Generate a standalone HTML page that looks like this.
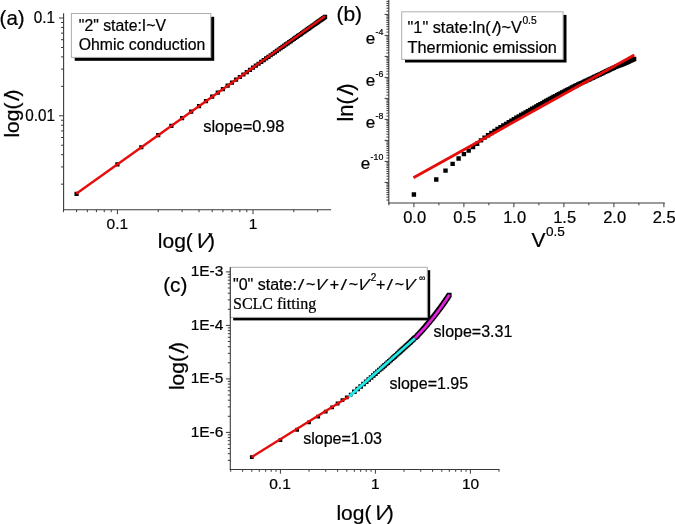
<!DOCTYPE html>
<html lang="en">
<head>
<meta charset="utf-8">
<title>I-V fitting of resistive states</title>
<style>
html,body{margin:0;padding:0;background:#fff;}
body{width:675px;height:524px;overflow:hidden;}
svg{display:block;}
svg text{fill:#000;stroke:#000;stroke-width:0.22px;}
</style>
</head>
<body>
<svg width="675" height="524" viewBox="0 0 675 524">
<rect width="675" height="524" fill="#fff"/>
<line x1="63.6" y1="13.2" x2="63.6" y2="210.35" stroke="#3a3a3a" stroke-width="1.1"/>
<line x1="63.05" y1="209.8" x2="331.1" y2="209.8" stroke="#3a3a3a" stroke-width="1.1"/>
<path d="M59 18L63.6 18M59 115.8L63.6 115.8M61 86.36L63.6 86.36M61 69.14L63.6 69.14M61 56.92L63.6 56.92M61 47.44L63.6 47.44M61 39.7L63.6 39.7M61 33.15L63.6 33.15M61 27.48L63.6 27.48M61 22.48L63.6 22.48M61 184.16L63.6 184.16M61 166.94L63.6 166.94M61 154.72L63.6 154.72M61 145.24L63.6 145.24M61 137.5L63.6 137.5M61 130.95L63.6 130.95M61 125.28L63.6 125.28M61 120.28L63.6 120.28M63.44 209.8L63.44 212.2M76.58 209.8L76.58 212.2M87.32 209.8L87.32 212.2M96.4 209.8L96.4 212.2M104.26 209.8L104.26 212.2M111.2 209.8L111.2 212.2M117.4 209.8L117.4 214.2M158.22 209.8L158.22 212.2M182.1 209.8L182.1 212.2M199.04 209.8L199.04 212.2M212.18 209.8L212.18 212.2M222.92 209.8L222.92 212.2M232 209.8L232 212.2M239.86 209.8L239.86 212.2M246.8 209.8L246.8 212.2M253 209.8L253 214.2M293.82 209.8L293.82 212.2M317.7 209.8L317.7 212.2" stroke="#3a3a3a" stroke-width="1.0" fill="none"/>
<text transform="translate(55 23) scale(0.96 1)" font-size="15.9" text-anchor="end" font-family='"Liberation Sans", Arial, Helvetica, sans-serif'>0.1</text>
<text transform="translate(55 120.8) scale(0.96 1)" font-size="15.9" text-anchor="end" font-family='"Liberation Sans", Arial, Helvetica, sans-serif'>0.01</text>
<text x="117.4" y="228.9" font-size="15.5" text-anchor="middle" font-family='"Liberation Sans", Arial, Helvetica, sans-serif'>0.1</text>
<text x="253" y="228.9" font-size="15.5" text-anchor="middle" font-family='"Liberation Sans", Arial, Helvetica, sans-serif'>1</text>
<path d="M74.48 191.83h4.2v4.2h-4.2zM115.3 162.21h4.2v4.2h-4.2zM139.18 145.17h4.2v4.2h-4.2zM156.12 133.09h4.2v4.2h-4.2zM169.26 123.71h4.2v4.2h-4.2zM180 116.05h4.2v4.2h-4.2zM189.08 109.57h4.2v4.2h-4.2zM196.94 103.96h4.2v4.2h-4.2zM203.88 99.01h4.2v4.2h-4.2zM210.08 94.59h4.2v4.2h-4.2zM215.69 90.58h4.2v4.2h-4.2zM220.82 86.93h4.2v4.2h-4.2zM225.53 83.57h4.2v4.2h-4.2zM229.9 80.48h4.2v4.2h-4.2zM233.96 77.6h4.2v4.2h-4.2zM237.76 74.91h4.2v4.2h-4.2zM241.33 72.38h4.2v4.2h-4.2zM244.7 70h4.2v4.2h-4.2zM247.88 67.75h4.2v4.2h-4.2zM250.9 65.62h4.2v4.2h-4.2zM253.77 63.59h4.2v4.2h-4.2zM256.51 61.65h4.2v4.2h-4.2zM259.13 59.81h4.2v4.2h-4.2zM261.64 58.04h4.2v4.2h-4.2zM264.04 56.34h4.2v4.2h-4.2zM266.35 54.71h4.2v4.2h-4.2zM268.57 53.14h4.2v4.2h-4.2zM270.71 51.63h4.2v4.2h-4.2zM272.78 50.18h4.2v4.2h-4.2zM274.78 48.77h4.2v4.2h-4.2zM276.71 47.41h4.2v4.2h-4.2zM278.58 46.09h4.2v4.2h-4.2zM280.39 44.81h4.2v4.2h-4.2zM282.15 43.57h4.2v4.2h-4.2zM283.86 42.37h4.2v4.2h-4.2zM285.51 41.2h4.2v4.2h-4.2zM287.13 40.07h4.2v4.2h-4.2zM288.7 38.96h4.2v4.2h-4.2zM290.23 37.88h4.2v4.2h-4.2zM291.72 36.83h4.2v4.2h-4.2zM293.17 35.81h4.2v4.2h-4.2zM294.59 34.81h4.2v4.2h-4.2zM295.98 33.83h4.2v4.2h-4.2zM297.33 32.88h4.2v4.2h-4.2zM298.66 31.95h4.2v4.2h-4.2zM299.95 31.04h4.2v4.2h-4.2zM301.22 30.15h4.2v4.2h-4.2zM302.46 29.27h4.2v4.2h-4.2zM303.67 28.42h4.2v4.2h-4.2zM304.86 27.58h4.2v4.2h-4.2zM306.03 26.76h4.2v4.2h-4.2zM307.17 25.96h4.2v4.2h-4.2zM308.29 25.17h4.2v4.2h-4.2zM309.39 24.39h4.2v4.2h-4.2zM310.47 23.63h4.2v4.2h-4.2zM311.53 22.89h4.2v4.2h-4.2zM312.58 22.15h4.2v4.2h-4.2zM313.6 21.43h4.2v4.2h-4.2zM314.61 20.73h4.2v4.2h-4.2zM315.6 20.03h4.2v4.2h-4.2zM316.57 19.34h4.2v4.2h-4.2zM317.53 18.67h4.2v4.2h-4.2zM318.47 18.01h4.2v4.2h-4.2zM319.4 17.36h4.2v4.2h-4.2zM320.31 16.71h4.2v4.2h-4.2zM321.21 16.08h4.2v4.2h-4.2zM322.1 15.46h4.2v4.2h-4.2zM322.97 14.85h4.2v4.2h-4.2z" fill="#000"/>
<line x1="76.2" y1="193.7" x2="325" y2="16.2" stroke="#e60d0d" stroke-width="2.4"/>
<rect x="74.7" y="16.8" width="139.5" height="44" fill="#000"/>
<rect x="71.4" y="13.5" width="139.4" height="43.9" fill="#fff" stroke="#adadad" stroke-width="1"/>
<text x="78.8" y="31.4" font-size="15.8" text-anchor="start" font-family='"Liberation Sans", Arial, Helvetica, sans-serif'>"2" state:I~V</text>
<text x="78.8" y="49.8" font-size="15.8" text-anchor="start" font-family='"Liberation Sans", Arial, Helvetica, sans-serif'>Ohmic conduction</text>
<text x="203.2" y="132.4" font-size="16.5" text-anchor="start" font-family='"Liberation Sans", Arial, Helvetica, sans-serif'>slope=0.98</text>
<text x="-0.4" y="25.4" font-size="20.5" text-anchor="start" font-family='"Liberation Sans", Arial, Helvetica, sans-serif'>(a)</text>
<g transform="translate(18.7 137.6) rotate(-90)" font-size="21" font-family='"Liberation Sans", Arial, Helvetica, sans-serif'>
<text x="0" y="0">log(</text>
<text transform="translate(35.81 0) skewX(-10)" font-style="italic" stroke-width="0.15">I</text>
<text x="41.01" y="0">)</text>
</g>
<g transform="translate(157.8 247.8)" font-size="21" font-family='"Liberation Sans", Arial, Helvetica, sans-serif'>
<text x="0" y="0">log(</text>
<text transform="translate(36.41 0) skewX(-10)" font-style="italic">V</text>
<text x="50.31" y="0">)</text>
</g>
<line x1="388.8" y1="0" x2="388.8" y2="203.55" stroke="#3a3a3a" stroke-width="1.1"/>
<line x1="388.25" y1="203" x2="664.8" y2="203" stroke="#3a3a3a" stroke-width="1.1"/>
<path d="M386.4 200.07L388.8 200.07M386.4 197.2L388.8 197.2M386.4 194.67L388.8 194.67M386.4 192.41L388.8 192.41M386.4 190.38L388.8 190.38M386.4 188.52L388.8 188.52M386.4 186.82L388.8 186.82M386.4 185.24L388.8 185.24M386.4 183.77L388.8 183.77M384.6 182.4L388.8 182.4M386.4 179.07L388.8 179.07M386.4 176.2L388.8 176.2M386.4 173.67L388.8 173.67M386.4 171.41L388.8 171.41M386.4 169.38L388.8 169.38M386.4 167.52L388.8 167.52M386.4 165.82L388.8 165.82M386.4 164.24L388.8 164.24M386.4 162.77L388.8 162.77M384.6 161.4L388.8 161.4M386.4 158.07L388.8 158.07M386.4 155.2L388.8 155.2M386.4 152.67L388.8 152.67M386.4 150.41L388.8 150.41M386.4 148.38L388.8 148.38M386.4 146.52L388.8 146.52M386.4 144.82L388.8 144.82M386.4 143.24L388.8 143.24M386.4 141.77L388.8 141.77M384.6 140.4L388.8 140.4M386.4 137.07L388.8 137.07M386.4 134.2L388.8 134.2M386.4 131.67L388.8 131.67M386.4 129.41L388.8 129.41M386.4 127.38L388.8 127.38M386.4 125.52L388.8 125.52M386.4 123.82L388.8 123.82M386.4 122.24L388.8 122.24M386.4 120.77L388.8 120.77M384.6 119.4L388.8 119.4M386.4 116.07L388.8 116.07M386.4 113.2L388.8 113.2M386.4 110.67L388.8 110.67M386.4 108.41L388.8 108.41M386.4 106.38L388.8 106.38M386.4 104.52L388.8 104.52M386.4 102.82L388.8 102.82M386.4 101.24L388.8 101.24M386.4 99.77L388.8 99.77M384.6 98.4L388.8 98.4M386.4 95.07L388.8 95.07M386.4 92.2L388.8 92.2M386.4 89.67L388.8 89.67M386.4 87.41L388.8 87.41M386.4 85.38L388.8 85.38M386.4 83.52L388.8 83.52M386.4 81.82L388.8 81.82M386.4 80.24L388.8 80.24M386.4 78.77L388.8 78.77M384.6 77.4L388.8 77.4M386.4 74.07L388.8 74.07M386.4 71.2L388.8 71.2M386.4 68.67L388.8 68.67M386.4 66.41L388.8 66.41M386.4 64.38L388.8 64.38M386.4 62.52L388.8 62.52M386.4 60.82L388.8 60.82M386.4 59.24L388.8 59.24M386.4 57.77L388.8 57.77M384.6 56.4L388.8 56.4M386.4 53.07L388.8 53.07M386.4 50.2L388.8 50.2M386.4 47.67L388.8 47.67M386.4 45.41L388.8 45.41M386.4 43.38L388.8 43.38M386.4 41.52L388.8 41.52M386.4 39.82L388.8 39.82M386.4 38.24L388.8 38.24M386.4 36.77L388.8 36.77M384.6 35.4L388.8 35.4M386.4 32.07L388.8 32.07M386.4 29.2L388.8 29.2M386.4 26.67L388.8 26.67M386.4 24.41L388.8 24.41M386.4 22.38L388.8 22.38M386.4 20.52L388.8 20.52M386.4 18.82L388.8 18.82M386.4 17.24L388.8 17.24M386.4 15.77L388.8 15.77M384.6 14.4L388.8 14.4M386.4 11.07L388.8 11.07M386.4 8.2L388.8 8.2M386.4 5.67L388.8 5.67M386.4 3.41L388.8 3.41M386.4 1.38L388.8 1.38M388.9 203L388.9 205.3M413.9 203L413.9 207.2M438.9 203L438.9 205.3M463.9 203L463.9 207.2M488.9 203L488.9 205.3M513.9 203L513.9 207.2M538.9 203L538.9 205.3M563.9 203L563.9 207.2M588.9 203L588.9 205.3M613.9 203L613.9 207.2M638.9 203L638.9 205.3M663.9 203L663.9 207.2" stroke="#3a3a3a" stroke-width="1.0" fill="none"/>
<text x="375.15" y="43.5" font-size="17" text-anchor="end" font-family='"Liberation Sans", Arial, Helvetica, sans-serif'>e</text>
<text transform="translate(375.45 34.5) scale(0.92 1)" font-size="9.6" text-anchor="start" font-family='"Liberation Sans", Arial, Helvetica, sans-serif'>-4</text>
<text x="375.15" y="85.6" font-size="17" text-anchor="end" font-family='"Liberation Sans", Arial, Helvetica, sans-serif'>e</text>
<text transform="translate(375.45 76.6) scale(0.92 1)" font-size="9.6" text-anchor="start" font-family='"Liberation Sans", Arial, Helvetica, sans-serif'>-6</text>
<text x="375.15" y="127.6" font-size="17" text-anchor="end" font-family='"Liberation Sans", Arial, Helvetica, sans-serif'>e</text>
<text transform="translate(375.45 118.6) scale(0.92 1)" font-size="9.6" text-anchor="start" font-family='"Liberation Sans", Arial, Helvetica, sans-serif'>-8</text>
<text x="370.24" y="169.4" font-size="17" text-anchor="end" font-family='"Liberation Sans", Arial, Helvetica, sans-serif'>e</text>
<text transform="translate(370.54 160.4) scale(0.92 1)" font-size="9.6" text-anchor="start" font-family='"Liberation Sans", Arial, Helvetica, sans-serif'>-10</text>
<text x="414.6" y="222.9" font-size="16.5" text-anchor="middle" font-family='"Liberation Sans", Arial, Helvetica, sans-serif'>0.0</text>
<text x="464.6" y="222.9" font-size="16.5" text-anchor="middle" font-family='"Liberation Sans", Arial, Helvetica, sans-serif'>0.5</text>
<text x="514.6" y="222.9" font-size="16.5" text-anchor="middle" font-family='"Liberation Sans", Arial, Helvetica, sans-serif'>1.0</text>
<text x="564.6" y="222.9" font-size="16.5" text-anchor="middle" font-family='"Liberation Sans", Arial, Helvetica, sans-serif'>1.5</text>
<text x="614.6" y="222.9" font-size="16.5" text-anchor="middle" font-family='"Liberation Sans", Arial, Helvetica, sans-serif'>2.0</text>
<text x="675.6" y="222.9" font-size="16.5" text-anchor="end" font-family='"Liberation Sans", Arial, Helvetica, sans-serif'>2.5</text>
<path d="M411.7 192.32h4.4v4.4h-4.4zM434.06 177.36h4.4v4.4h-4.4zM443.32 168.42h4.4v4.4h-4.4zM450.43 161.72h4.4v4.4h-4.4zM456.42 156.35h4.4v4.4h-4.4zM461.7 151.95h4.4v4.4h-4.4zM466.47 148.44h4.4v4.4h-4.4zM470.86 144.92h4.4v4.4h-4.4zM474.95 141.56h4.4v4.4h-4.4zM478.78 138.17h4.4v4.4h-4.4zM482.41 135.44h4.4v4.4h-4.4zM485.86 133.02h4.4v4.4h-4.4zM489.16 130.82h4.4v4.4h-4.4zM492.32 128.78h4.4v4.4h-4.4zM495.37 126.86h4.4v4.4h-4.4zM498.3 125.05h4.4v4.4h-4.4zM501.14 123.32h4.4v4.4h-4.4zM503.9 121.64h4.4v4.4h-4.4zM506.57 120.02h4.4v4.4h-4.4zM509.17 118.46h4.4v4.4h-4.4zM511.7 116.96h4.4v4.4h-4.4zM514.17 115.52h4.4v4.4h-4.4zM516.58 114.13h4.4v4.4h-4.4zM518.94 112.8h4.4v4.4h-4.4zM521.24 111.5h4.4v4.4h-4.4zM523.5 110.23h4.4v4.4h-4.4zM525.72 108.99h4.4v4.4h-4.4zM527.89 107.77h4.4v4.4h-4.4zM530.02 106.57h4.4v4.4h-4.4zM532.12 105.4h4.4v4.4h-4.4zM534.17 104.25h4.4v4.4h-4.4zM536.2 103.12h4.4v4.4h-4.4zM538.19 102.01h4.4v4.4h-4.4zM540.15 100.92h4.4v4.4h-4.4zM542.08 99.84h4.4v4.4h-4.4zM543.99 98.79h4.4v4.4h-4.4zM545.86 97.76h4.4v4.4h-4.4zM547.71 96.76h4.4v4.4h-4.4zM549.54 95.78h4.4v4.4h-4.4zM551.34 94.82h4.4v4.4h-4.4zM553.12 93.89h4.4v4.4h-4.4zM554.88 92.97h4.4v4.4h-4.4zM556.61 92.07h4.4v4.4h-4.4zM558.33 91.19h4.4v4.4h-4.4zM560.02 90.31h4.4v4.4h-4.4zM561.7 89.46h4.4v4.4h-4.4zM563.36 88.61h4.4v4.4h-4.4zM565 87.77h4.4v4.4h-4.4zM566.62 86.95h4.4v4.4h-4.4zM568.22 86.13h4.4v4.4h-4.4zM569.81 85.33h4.4v4.4h-4.4zM571.39 84.55h4.4v4.4h-4.4zM572.95 83.78h4.4v4.4h-4.4zM574.49 83.04h4.4v4.4h-4.4zM576.02 82.3h4.4v4.4h-4.4zM577.53 81.58h4.4v4.4h-4.4zM579.03 80.88h4.4v4.4h-4.4zM580.52 80.18h4.4v4.4h-4.4zM581.99 79.49h4.4v4.4h-4.4zM583.46 78.81h4.4v4.4h-4.4zM584.91 78.14h4.4v4.4h-4.4zM586.34 77.48h4.4v4.4h-4.4zM587.77 76.82h4.4v4.4h-4.4zM589.18 76.16h4.4v4.4h-4.4zM590.59 75.51h4.4v4.4h-4.4zM591.98 74.86h4.4v4.4h-4.4zM593.36 74.22h4.4v4.4h-4.4zM594.73 73.57h4.4v4.4h-4.4zM596.09 72.92h4.4v4.4h-4.4zM597.44 72.28h4.4v4.4h-4.4zM598.78 71.63h4.4v4.4h-4.4zM600.11 70.99h4.4v4.4h-4.4zM601.44 70.35h4.4v4.4h-4.4zM602.75 69.72h4.4v4.4h-4.4zM604.05 69.1h4.4v4.4h-4.4zM605.35 68.48h4.4v4.4h-4.4zM606.64 67.87h4.4v4.4h-4.4zM607.91 67.27h4.4v4.4h-4.4zM609.18 66.67h4.4v4.4h-4.4zM610.45 66.09h4.4v4.4h-4.4zM611.7 65.52h4.4v4.4h-4.4zM612.95 64.96h4.4v4.4h-4.4zM614.18 64.43h4.4v4.4h-4.4zM615.42 63.94h4.4v4.4h-4.4zM616.64 63.46h4.4v4.4h-4.4zM617.86 63h4.4v4.4h-4.4zM619.06 62.54h4.4v4.4h-4.4zM620.27 62.08h4.4v4.4h-4.4zM621.46 61.61h4.4v4.4h-4.4zM622.65 61.12h4.4v4.4h-4.4zM623.83 60.6h4.4v4.4h-4.4zM625.01 60.06h4.4v4.4h-4.4zM626.18 59.52h4.4v4.4h-4.4zM627.34 58.97h4.4v4.4h-4.4zM628.49 58.41h4.4v4.4h-4.4zM629.64 57.86h4.4v4.4h-4.4zM630.79 57.31h4.4v4.4h-4.4zM631.93 56.77h4.4v4.4h-4.4z" fill="#000"/>
<line x1="413.4" y1="177.8" x2="634.3" y2="55" stroke="#e60d0d" stroke-width="2.9"/>
<rect x="405" y="14.9" width="161.5" height="47.6" fill="#000"/>
<rect x="401.7" y="11.8" width="161.4" height="47.6" fill="#fff" stroke="#adadad" stroke-width="1"/>
<g font-size="16.3" font-family='"Liberation Sans", Arial, Helvetica, sans-serif'>
<text x="407.6" y="33.4">"1" state:ln(</text>
<text transform="translate(491.3 33.4) skewX(-12)" font-style="italic" stroke-width="0.2">I</text>
<text x="496.1" y="33.4">)~V<tspan font-size="10.3" dy="-9.0" dx="0.5">0.5</tspan></text>
</g>
<text x="407.6" y="52.7" font-size="16.3" text-anchor="start" font-family='"Liberation Sans", Arial, Helvetica, sans-serif'>Thermionic emission</text>
<text x="336.4" y="21" font-size="21" text-anchor="start" font-family='"Liberation Sans", Arial, Helvetica, sans-serif'>(b)</text>
<g transform="translate(352.6 121.6) rotate(-90)" font-size="22" font-family='"Liberation Sans", Arial, Helvetica, sans-serif'>
<text x="0" y="0">ln(</text>
<text transform="translate(25.44 0) skewX(-10)" font-style="italic" stroke-width="0.15">I</text>
<text x="30.94" y="0">)</text>
</g>
<text x="531.6" y="247.2" font-size="21" font-family='"Liberation Sans", Arial, Helvetica, sans-serif'>V<tspan font-size="13.6" dy="-11.3" dx="0.3">0.5</tspan></text>
<rect x="233.2" y="270.2" width="197" height="50.2" fill="#000"/>
<rect x="230.3" y="267.3" width="197" height="50.1" fill="#fff" stroke="#adadad" stroke-width="1"/>
<line x1="230.3" y1="267.3" x2="230.3" y2="470.05" stroke="#3a3a3a" stroke-width="1.1"/>
<line x1="229.75" y1="469.5" x2="499.5" y2="469.5" stroke="#3a3a3a" stroke-width="1.1"/>
<path d="M225.9 271.9L230.3 271.9M225.9 325.4L230.3 325.4M227.8 309.29L230.3 309.29M227.8 299.87L230.3 299.87M227.8 293.19L230.3 293.19M227.8 288.01L230.3 288.01M227.8 283.77L230.3 283.77M227.8 280.19L230.3 280.19M227.8 277.08L230.3 277.08M227.8 274.35L230.3 274.35M225.9 378.9L230.3 378.9M227.8 362.79L230.3 362.79M227.8 353.37L230.3 353.37M227.8 346.69L230.3 346.69M227.8 341.51L230.3 341.51M227.8 337.27L230.3 337.27M227.8 333.69L230.3 333.69M227.8 330.58L230.3 330.58M227.8 327.85L230.3 327.85M225.9 432.4L230.3 432.4M227.8 416.29L230.3 416.29M227.8 406.87L230.3 406.87M227.8 400.19L230.3 400.19M227.8 395.01L230.3 395.01M227.8 390.77L230.3 390.77M227.8 387.19L230.3 387.19M227.8 384.08L230.3 384.08M227.8 381.35L230.3 381.35M227.8 460.37L230.3 460.37M227.8 453.69L230.3 453.69M227.8 448.51L230.3 448.51M227.8 444.27L230.3 444.27M227.8 440.69L230.3 440.69M227.8 437.58L230.3 437.58M227.8 434.85L230.3 434.85M230.73 469.5L230.73 471.8M242.6 469.5L242.6 471.8M251.8 469.5L251.8 471.8M259.32 469.5L259.32 471.8M265.68 469.5L265.68 471.8M271.19 469.5L271.19 471.8M276.05 469.5L276.05 471.8M280.4 469.5L280.4 473.7M309 469.5L309 471.8M325.73 469.5L325.73 471.8M337.6 469.5L337.6 471.8M346.8 469.5L346.8 471.8M354.32 469.5L354.32 471.8M360.68 469.5L360.68 471.8M366.19 469.5L366.19 471.8M371.05 469.5L371.05 471.8M375.4 469.5L375.4 473.7M404 469.5L404 471.8M420.73 469.5L420.73 471.8M432.6 469.5L432.6 471.8M441.8 469.5L441.8 471.8M449.32 469.5L449.32 471.8M455.68 469.5L455.68 471.8M461.19 469.5L461.19 471.8M466.05 469.5L466.05 471.8M470.4 469.5L470.4 473.7M499 469.5L499 471.8" stroke="#3a3a3a" stroke-width="1.0" fill="none"/>
<text x="223.4" y="276.2" font-size="15.5" text-anchor="end" font-family='"Liberation Sans", Arial, Helvetica, sans-serif'>1E-3</text>
<text x="223.4" y="329.7" font-size="15.5" text-anchor="end" font-family='"Liberation Sans", Arial, Helvetica, sans-serif'>1E-4</text>
<text x="223.4" y="383.2" font-size="15.5" text-anchor="end" font-family='"Liberation Sans", Arial, Helvetica, sans-serif'>1E-5</text>
<text x="223.4" y="436.7" font-size="15.5" text-anchor="end" font-family='"Liberation Sans", Arial, Helvetica, sans-serif'>1E-6</text>
<text x="280" y="489" font-size="15.5" text-anchor="middle" font-family='"Liberation Sans", Arial, Helvetica, sans-serif'>0.1</text>
<text x="375.4" y="489" font-size="15.5" text-anchor="middle" font-family='"Liberation Sans", Arial, Helvetica, sans-serif'>1</text>
<text x="470.6" y="489" font-size="15.5" text-anchor="middle" font-family='"Liberation Sans", Arial, Helvetica, sans-serif'>10</text>
<path d="M249.9 455.18h3.8v3.8h-3.8zM278.5 438.18h3.8v3.8h-3.8zM295.23 427.87h3.8v3.8h-3.8zM307.1 420.49h3.8v3.8h-3.8zM316.3 414.66h3.8v3.8h-3.8zM323.83 409.77h3.8v3.8h-3.8zM330.19 405.43h3.8v3.8h-3.8zM335.7 401.59h3.8v3.8h-3.8zM340.56 398.2h3.8v3.8h-3.8zM344.9 395.38h3.8v3.8h-3.8zM348.83 392.63h3.8v3.8h-3.8z" fill="#000"/>
<path d="M352.02 389.41h4.6v4.6h-4.6zM355.33 386.68h4.6v4.6h-4.6zM358.38 384.13h4.6v4.6h-4.6zM361.23 381.72h4.6v4.6h-4.6zM363.89 379.42h4.6v4.6h-4.6zM366.39 377.23h4.6v4.6h-4.6zM368.75 375.15h4.6v4.6h-4.6zM370.98 373.17h4.6v4.6h-4.6zM373.1 371.28h4.6v4.6h-4.6zM375.11 369.48h4.6v4.6h-4.6zM377.03 367.77h4.6v4.6h-4.6zM378.87 366.14h4.6v4.6h-4.6zM380.62 364.58h4.6v4.6h-4.6zM382.31 363.09h4.6v4.6h-4.6zM383.92 361.66h4.6v4.6h-4.6zM385.48 360.28h4.6v4.6h-4.6zM386.98 358.95h4.6v4.6h-4.6zM388.43 357.66h4.6v4.6h-4.6zM389.83 356.41h4.6v4.6h-4.6zM391.18 355.2h4.6v4.6h-4.6zM392.49 354.03h4.6v4.6h-4.6zM393.76 352.88h4.6v4.6h-4.6zM394.99 351.77h4.6v4.6h-4.6zM396.19 350.68h4.6v4.6h-4.6zM397.35 349.62h4.6v4.6h-4.6zM398.48 348.59h4.6v4.6h-4.6zM399.58 347.59h4.6v4.6h-4.6zM400.65 346.62h4.6v4.6h-4.6zM401.7 345.68h4.6v4.6h-4.6zM402.72 344.77h4.6v4.6h-4.6zM403.71 343.87h4.6v4.6h-4.6zM404.68 342.99h4.6v4.6h-4.6zM405.63 342.12h4.6v4.6h-4.6zM406.56 341.27h4.6v4.6h-4.6zM407.46 340.42h4.6v4.6h-4.6zM408.35 339.57h4.6v4.6h-4.6zM409.22 338.73h4.6v4.6h-4.6zM410.07 337.9h4.6v4.6h-4.6zM410.9 337.06h4.6v4.6h-4.6zM411.72 336.22h4.6v4.6h-4.6zM412.52 335.39h4.6v4.6h-4.6zM413.31 335.25h4.6v4.6h-4.6zM414.08 334.43h4.6v4.6h-4.6zM414.84 333.61h4.6v4.6h-4.6zM415.58 332.81h4.6v4.6h-4.6zM416.31 332.01h4.6v4.6h-4.6zM417.03 331.22h4.6v4.6h-4.6zM417.73 330.44h4.6v4.6h-4.6zM418.43 329.67h4.6v4.6h-4.6zM419.11 328.9h4.6v4.6h-4.6zM419.78 328.14h4.6v4.6h-4.6zM420.44 327.39h4.6v4.6h-4.6zM421.09 326.65h4.6v4.6h-4.6zM421.73 325.92h4.6v4.6h-4.6zM422.36 325.19h4.6v4.6h-4.6zM422.98 324.47h4.6v4.6h-4.6zM423.59 323.75h4.6v4.6h-4.6zM424.19 323.05h4.6v4.6h-4.6zM424.79 322.35h4.6v4.6h-4.6zM425.37 321.65h4.6v4.6h-4.6zM425.95 320.96h4.6v4.6h-4.6zM426.52 320.28h4.6v4.6h-4.6zM427.08 319.6h4.6v4.6h-4.6zM427.63 318.93h4.6v4.6h-4.6zM428.18 318.27h4.6v4.6h-4.6zM428.72 317.61h4.6v4.6h-4.6zM429.25 316.95h4.6v4.6h-4.6zM429.78 316.3h4.6v4.6h-4.6zM430.3 315.66h4.6v4.6h-4.6zM430.81 315.02h4.6v4.6h-4.6zM431.31 314.38h4.6v4.6h-4.6zM431.81 313.75h4.6v4.6h-4.6zM432.31 313.13h4.6v4.6h-4.6zM432.8 312.5h4.6v4.6h-4.6zM433.28 311.89h4.6v4.6h-4.6zM433.76 311.27h4.6v4.6h-4.6zM434.23 310.66h4.6v4.6h-4.6zM434.69 310.06h4.6v4.6h-4.6zM435.16 309.46h4.6v4.6h-4.6zM435.61 308.86h4.6v4.6h-4.6zM436.06 308.26h4.6v4.6h-4.6zM436.51 307.67h4.6v4.6h-4.6zM436.95 307.08h4.6v4.6h-4.6zM437.39 306.5h4.6v4.6h-4.6zM437.82 305.92h4.6v4.6h-4.6zM438.25 305.34h4.6v4.6h-4.6zM438.67 304.76h4.6v4.6h-4.6zM439.09 304.19h4.6v4.6h-4.6zM439.5 303.62h4.6v4.6h-4.6zM439.91 303.05h4.6v4.6h-4.6zM440.32 302.48h4.6v4.6h-4.6zM440.72 301.92h4.6v4.6h-4.6zM441.12 301.36h4.6v4.6h-4.6zM441.52 300.8h4.6v4.6h-4.6zM441.91 300.25h4.6v4.6h-4.6zM442.29 299.69h4.6v4.6h-4.6zM442.68 299.14h4.6v4.6h-4.6zM443.06 298.59h4.6v4.6h-4.6zM443.43 298.05h4.6v4.6h-4.6zM443.81 297.5h4.6v4.6h-4.6zM444.18 296.96h4.6v4.6h-4.6zM444.54 296.42h4.6v4.6h-4.6zM444.91 295.88h4.6v4.6h-4.6zM445.27 295.34h4.6v4.6h-4.6zM445.63 294.8h4.6v4.6h-4.6zM445.98 294.27h4.6v4.6h-4.6zM446.33 293.73h4.6v4.6h-4.6zM446.68 293.2h4.6v4.6h-4.6zM447.02 292.67h4.6v4.6h-4.6z" fill="#000"/>
<line x1="251.6" y1="457.2" x2="349" y2="396.6" stroke="#e60d0d" stroke-width="2.4"/>
<line x1="349" y1="396.6" x2="414.9" y2="338.3" stroke="#1fe9e9" stroke-width="2.8"/>
<path d="M414.9 338.3Q434.6 318.4 449.5 294.7" stroke="#e420de" stroke-width="2.7" fill="none"/>
<g font-size="16" font-family='"Liberation Sans", Arial, Helvetica, sans-serif'>
<text x="233" y="289.6">"0" state:</text>
<text transform="translate(297.2 289.6) skewX(-14)" font-style="italic" stroke-width="0.2">I</text>
<text x="305.9" y="290" stroke-width="0.7">~</text>
<text transform="translate(314.4 289.6) skewX(-10)" font-style="italic" stroke-width="0.2">V</text>
<text transform="translate(340 289.6) skewX(-14)" font-style="italic" stroke-width="0.2">I</text>
<text x="348.7" y="290" stroke-width="0.7">~</text>
<text transform="translate(357 289.6) skewX(-10)" font-style="italic" stroke-width="0.2">V</text>
<text transform="translate(386 289.6) skewX(-14)" font-style="italic" stroke-width="0.2">I</text>
<text x="394.7" y="290" stroke-width="0.7">~</text>
<text transform="translate(403 289.6) skewX(-10)" font-style="italic" stroke-width="0.2">V</text>
<text x="329.8" y="289.6">+</text>
<text x="375.9" y="289.6">+</text>
<text x="370.8" y="281" font-size="10">2</text>
<text x="419" y="281.2" font-size="9" stroke-width="0">∞</text>
</g>
<text x="233" y="309.3" font-size="16" text-anchor="start" font-family='"Liberation Serif", "Times New Roman", Times, serif' stroke-width="0.12">SCLC fitting</text>
<text x="433.6" y="336.5" font-size="16" text-anchor="start" font-family='"Liberation Sans", Arial, Helvetica, sans-serif'>slope=3.31</text>
<text x="389.4" y="389.2" font-size="16" text-anchor="start" font-family='"Liberation Sans", Arial, Helvetica, sans-serif'>slope=1.95</text>
<text x="303.2" y="444.2" font-size="16" text-anchor="start" font-family='"Liberation Sans", Arial, Helvetica, sans-serif'>slope=1.03</text>
<text x="163.2" y="291.8" font-size="20.8" text-anchor="start" font-family='"Liberation Sans", Arial, Helvetica, sans-serif'>(c)</text>
<g transform="translate(184.3 390.1) rotate(-90)" font-size="21" font-family='"Liberation Sans", Arial, Helvetica, sans-serif'>
<text x="0" y="0">log(</text>
<text transform="translate(35.81 0) skewX(-10)" font-style="italic" stroke-width="0.15">I</text>
<text x="41.01" y="0">)</text>
</g>
<g transform="translate(336.4 519.8)" font-size="21" font-family='"Liberation Sans", Arial, Helvetica, sans-serif'>
<text x="0" y="0">log(</text>
<text transform="translate(36.41 0) skewX(-10)" font-style="italic">V</text>
<text x="50.31" y="0">)</text>
</g>
</svg>
</body>
</html>
